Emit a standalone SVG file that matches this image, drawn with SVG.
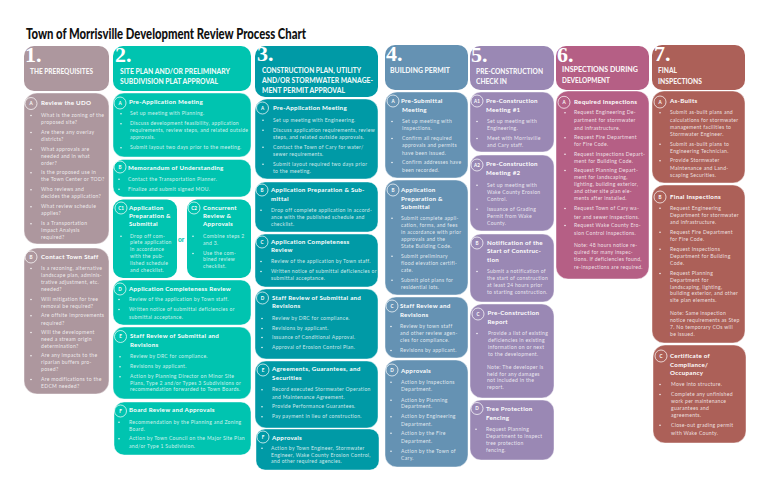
<svg xmlns="http://www.w3.org/2000/svg" width="768" height="497" viewBox="0 0 768 497">
<style>
text{font-family:"Lato","Open Sans","Liberation Sans",sans-serif;fill:#fff}
.title{font-weight:900;font-size:14.5px;fill:#111}
.n{font-family:"Liberation Serif",serif;font-weight:700;font-size:22px}
.l{font-weight:900;font-size:8.2px;fill-opacity:.93}
.h{font-weight:700;font-size:6.2px;letter-spacing:.28px}
.t{font-size:5.1px;letter-spacing:.28px;fill-opacity:.8}
.c{fill:none;stroke:#fff;stroke-width:.8;stroke-opacity:.9}
.k{font-weight:700;font-size:4.6px;text-anchor:middle}
.d{fill:#fff;fill-opacity:.9;r:.8px}
.s{stroke:#fff;stroke-opacity:.55;stroke-width:.8}
.c1{fill:#AD979E}.c2{fill:#00C4B0}.c3{fill:#009AA6}.c4{fill:#6592B3}.c5{fill:#9A88B4}.c6{fill:#B55F85}.c7{fill:#AC6058}
</style>
<rect width="768" height="497" fill="#fff"/>
<text class="title" x="26" y="38.5" textLength="280" lengthAdjust="spacingAndGlyphs">Town of Morrisville Development Review Process Chart</text>

<g id="col1-header"><rect class="c1" x="24" y="46" width="85" height="45" rx="10"/><text class="n" x="25" y="62">1.</text><text class="l" x="30" y="74" textLength="63" lengthAdjust="spacingAndGlyphs">THE PREREQUISITES</text></g>
<g id="col1-a"><rect class="c1 s" x="24" y="93" width="85" height="151" rx="13"/><circle class="c" cx="31" cy="103.5" r="6"/><text class="k" x="31" y="105.2">A</text>
<text class="h" x="41" y="105">Review the UDO</text>
<circle class="d" cx="31" cy="115.5"/><text class="t" x="41" y="117">What is the zoning of the</text><text class="t" x="41" y="124">proposed site?</text>
<circle class="d" cx="31" cy="132.5"/><text class="t" x="41" y="134">Are there any overlay</text><text class="t" x="41" y="141">districts?</text>
<circle class="d" cx="31" cy="149.5"/><text class="t" x="41" y="151">What approvals are</text><text class="t" x="41" y="158">needed and in what</text><text class="t" x="41" y="165">order?</text>
<circle class="d" cx="31" cy="172.8"/><text class="t" x="41" y="174.3">Is the proposed use in</text><text class="t" x="41" y="181.3">the Town Center or TOD?</text>
<circle class="d" cx="31" cy="189.8"/><text class="t" x="41" y="191.3">Who reviews and</text><text class="t" x="41" y="198.3">decides the application?</text>
<circle class="d" cx="31" cy="206.8"/><text class="t" x="41" y="208.3">What review schedule</text><text class="t" x="41" y="215">applies?</text>
<circle class="d" cx="31" cy="223.8"/><text class="t" x="41" y="225.3">Is a Transportation</text><text class="t" x="41" y="232.3">Impact Analysis</text><text class="t" x="41" y="239.3">required?</text></g>
<g id="col1-b"><rect class="c1 s" x="24" y="248" width="85" height="146" rx="13"/><circle class="c" cx="31" cy="257" r="6"/><text class="k" x="31" y="258.7">B</text>
<text class="h" x="41" y="259">Contact Town Staff</text>
<circle class="d" cx="31" cy="268.5"/><text class="t" x="41" y="270">Is a rezoning, alternative</text><text class="t" x="41" y="277">landscape plan, adminis-</text><text class="t" x="41" y="284">trative adjustment, etc.</text><text class="t" x="41" y="291">needed?</text>
<circle class="d" cx="31" cy="299.5"/><text class="t" x="41" y="301">Will mitigation for tree</text><text class="t" x="41" y="308.3">removal be required?</text>
<circle class="d" cx="31" cy="315.8"/><text class="t" x="41" y="317.3">Are offsite improvements</text><text class="t" x="41" y="324.7">required?</text>
<circle class="d" cx="31" cy="332.5"/><text class="t" x="41" y="334">Will the development</text><text class="t" x="41" y="341">need a stream origin</text><text class="t" x="41" y="348">determination?</text>
<circle class="d" cx="31" cy="355.8"/><text class="t" x="41" y="357.3">Are any impacts to the</text><text class="t" x="41" y="364.3">riparian buffers pro-</text><text class="t" x="41" y="371.3">posed?</text>
<circle class="d" cx="31" cy="379.5"/><text class="t" x="41" y="381">Are modifications to the</text><text class="t" x="41" y="388">EDCM needed?</text></g>

<g id="col2-header"><rect class="c2" x="113" y="46" width="138" height="45" rx="10"/><text class="n" x="115" y="62">2.</text><text class="l" x="120" y="74" textLength="110" lengthAdjust="spacingAndGlyphs">SITE PLAN AND/OR PRELIMINARY</text><text class="l" x="120" y="84" textLength="98" lengthAdjust="spacingAndGlyphs">SUBDIVISION PLAT APPROVAL</text></g>
<g id="col2-a"><rect class="c2 s" x="113" y="93" width="138" height="64" rx="11"/><circle class="c" cx="120" cy="103" r="6"/><text class="k" x="120" y="104.7">A</text>
<text class="h" x="129" y="104">Pre-Application Meeting</text>
<circle class="d" cx="121" cy="113.8"/><text class="t" x="130" y="115.3">Set up meeting with Planning.</text>
<circle class="d" cx="121" cy="123.8"/><text class="t" x="130" y="125.3">Discuss development feasibility, application</text><text class="t" x="130" y="132.3">requirements, review steps, and related outside</text><text class="t" x="130" y="139.3">approvals.</text>
<circle class="d" cx="121" cy="147.8"/><text class="t" x="130" y="149.3">Submit layout two days prior to the meeting.</text></g>
<g id="col2-b"><rect class="c2 s" x="113" y="159.5" width="138" height="37.5" rx="10"/><circle class="c" cx="120" cy="167" r="6"/><text class="k" x="120" y="168.7">B</text>
<text class="h" x="128" y="169.7">Memorandum of Understanding</text>
<circle class="d" cx="119" cy="179.2"/><text class="t" x="128" y="180.7">Contact the Transportation Planner.</text>
<circle class="d" cx="119" cy="189.2"/><text class="t" x="128" y="190.7">Finalize and submit signed MOU.</text></g>
<g id="col2-c1"><rect class="c2" x="113" y="199.5" width="64" height="78.5" rx="10"/><circle class="c" cx="121" cy="208" r="6"/><text class="k" x="121" y="209.7">C1</text>
<text class="h" x="129" y="209.7">Application</text><text class="h" x="129" y="217.7">Preparation &amp;</text><text class="h" x="129" y="226.3">Submittal</text>
<circle class="d" cx="121" cy="236.2"/><text class="t" x="130" y="237.7">Drop off com-</text><text class="t" x="130" y="244">plete application</text><text class="t" x="130" y="250.7">in accordance</text><text class="t" x="130" y="257.7">with the pub-</text><text class="t" x="130" y="264.7">lished schedule</text><text class="t" x="130" y="271.7">and checklist.</text></g>
<text id="col2-or" x="178" y="242" style="font-weight:900;font-size:6.6px;fill:#00C4B0">or</text>
<g id="col2-c2"><rect class="c2" x="187" y="199.5" width="64" height="78.5" rx="10"/><circle class="c" cx="194" cy="208" r="6"/><text class="k" x="194" y="209.7">C2</text>
<text class="h" x="203" y="209.7">Concurrent</text><text class="h" x="203" y="217.7">Review &amp;</text><text class="h" x="203" y="226.3">Approvals</text>
<circle class="d" cx="193" cy="236.2"/><text class="t" x="203" y="237.7">Combine steps 2</text><text class="t" x="203" y="244.7">and 3.</text>
<circle class="d" cx="193" cy="253.5"/><text class="t" x="203" y="255">Use the com-</text><text class="t" x="203" y="261">bined review</text><text class="t" x="203" y="267.7">checklist.</text></g>
<g id="col2-d"><rect class="c2 s" x="113" y="280" width="138" height="45" rx="10"/><circle class="c" cx="120" cy="289" r="6"/><text class="k" x="120" y="290.7">D</text>
<text class="h" x="129" y="291">Application Completeness Review</text>
<circle class="d" cx="119" cy="299.5"/><text class="t" x="129" y="301">Review of the application by Town staff.</text>
<circle class="d" cx="119" cy="309.5"/><text class="t" x="129" y="311">Written notice of submittal deficiencies or</text><text class="t" x="129" y="319">submittal acceptance.</text></g>
<g id="col2-e"><rect class="c2 s" x="113" y="327" width="138" height="72" rx="11"/><circle class="c" cx="120.5" cy="336.5" r="6"/><text class="k" x="120.5" y="338.2">E</text>
<text class="h" x="130" y="338">Staff Review of Submittal and</text><text class="h" x="130" y="347">Revisions</text>
<circle class="d" cx="120" cy="356.8"/><text class="t" x="130" y="358.3">Review by DRC for compliance.</text>
<circle class="d" cx="120" cy="366.8"/><text class="t" x="130" y="368.3">Revisions by applicant.</text>
<circle class="d" cx="120" cy="376.8"/><text class="t" x="130" y="378.3">Action by Planning Director on Minor Site</text><text class="t" x="130" y="384.7">Plans, Type 2 and/or Types 3 Subdivisions or</text><text class="t" x="130" y="391.3">recommendation forwarded to Town Boards.</text></g>
<g id="col2-f"><rect class="c2 s" x="114" y="402" width="137" height="53" rx="10"/><circle class="c" cx="120.5" cy="411" r="6"/><text class="k" x="120.5" y="412.7">F</text>
<text class="h" x="129" y="412">Board Review and Approvals</text>
<circle class="d" cx="119" cy="422.2"/><text class="t" x="129" y="423.7">Recommendation by the Planning and Zoning</text><text class="t" x="129" y="430.7">Board.</text>
<circle class="d" cx="119" cy="438.8"/><text class="t" x="129" y="440.3">Action by Town Council on the Major Site Plan</text><text class="t" x="129" y="447.7">and/or Type 1 Subdivision.</text></g>

<g id="col3-header"><rect class="c3" x="255" y="46" width="123" height="51" rx="10"/><text class="n" x="257" y="61">3.</text><text class="l" x="262" y="73.3" textLength="99" lengthAdjust="spacingAndGlyphs">CONSTRUCTION PLAN, UTILITY</text><text class="l" x="262" y="83.3" textLength="111" lengthAdjust="spacingAndGlyphs">AND/OR STORMWATER  MANAGE-</text><text class="l" x="262" y="93.3" textLength="83" lengthAdjust="spacingAndGlyphs">MENT PERMIT APPROVAL</text></g>
<g id="col3-a"><rect class="c3 s" x="255" y="99" width="123" height="80" rx="12"/><circle class="c" cx="262.5" cy="108" r="6"/><text class="k" x="262.5" y="109.7">A</text>
<text class="h" x="273" y="110.3">Pre-Application Meeting</text>
<circle class="d" cx="263" cy="120.2"/><text class="t" x="273" y="121.7">Set up meeting with Engineering.</text>
<circle class="d" cx="263" cy="130.2"/><text class="t" x="273" y="131.7">Discuss application requirements, review</text><text class="t" x="273" y="138.7">steps, and related outside approvals.</text>
<circle class="d" cx="263" cy="147.2"/><text class="t" x="273" y="148.7">Contact the Town of Cary for water/</text><text class="t" x="273" y="155.7">sewer requirements.</text>
<circle class="d" cx="263" cy="164.2"/><text class="t" x="273" y="165.7">Submit layout required two days prior</text><text class="t" x="273" y="172.7">to the meeting.</text></g>
<g id="col3-b"><rect class="c3 s" x="255" y="182" width="123" height="50" rx="10"/><circle class="c" cx="262" cy="190" r="6"/><text class="k" x="262" y="191.7">B</text>
<text class="h" x="271" y="192">Application Preparation &amp; Sub-</text><text class="h" x="271" y="200.7">mittal</text>
<circle class="d" cx="261" cy="210.2"/><text class="t" x="271" y="211.7">Drop off complete application in accord-</text><text class="t" x="271" y="218.7">ance with the published schedule and</text><text class="t" x="271" y="225.7">checklist.</text></g>
<g id="col3-c"><rect class="c3 s" x="255" y="234" width="123" height="53" rx="10"/><circle class="c" cx="262" cy="242" r="6"/><text class="k" x="262" y="243.7">C</text>
<text class="h" x="271" y="244">Application Completeness</text><text class="h" x="271" y="252">Review</text>
<circle class="d" cx="261" cy="261.5"/><text class="t" x="271" y="263">Review of the application by Town staff.</text>
<circle class="d" cx="261" cy="271.5"/><text class="t" x="271" y="273">Written notice of submittal deficiencies or</text><text class="t" x="271" y="280">submittal acceptance.</text></g>
<g id="col3-d"><rect class="c3 s" x="255" y="289" width="123" height="70" rx="11"/><circle class="c" cx="262.5" cy="298" r="6"/><text class="k" x="262.5" y="299.7">D</text>
<text class="h" x="272" y="299.7">Staff Review of Submittal and</text><text class="h" x="272" y="308">Revisions</text>
<circle class="d" cx="262" cy="318.5"/><text class="t" x="272" y="320">Review by DRC for compliance.</text>
<circle class="d" cx="262" cy="328.5"/><text class="t" x="272" y="330">Revisions by applicant.</text>
<circle class="d" cx="262" cy="337.5"/><text class="t" x="272" y="339">Issuance of Conditional Approval.</text>
<circle class="d" cx="262" cy="347.5"/><text class="t" x="272" y="349">Approval of Erosion Control Plan.</text></g>
<g id="col3-e"><rect class="c3 s" x="255" y="361" width="123" height="67" rx="11"/><circle class="c" cx="263" cy="370" r="6"/><text class="k" x="263" y="371.7">E</text>
<text class="h" x="272" y="371.3">Agreements, Guarantees, and</text><text class="h" x="272" y="380.3">Securities</text>
<circle class="d" cx="262" cy="389.8"/><text class="t" x="272" y="391.3">Record  executed Stormwater Operation</text><text class="t" x="272" y="398.7">and Maintenance Agreement.</text>
<circle class="d" cx="262" cy="406.8"/><text class="t" x="272" y="408.3">Provide Performance Guarantees.</text>
<circle class="d" cx="262" cy="416.8"/><text class="t" x="272" y="418.3">Pay payment in lieu of construction.</text></g>
<g id="col3-f"><rect class="c3 s" x="256" y="429" width="123" height="41" rx="9"/><circle class="c" cx="263" cy="437" r="6"/><text class="k" x="263" y="438.7">F</text>
<text class="h" x="272" y="439.7">Approvals</text>
<circle class="d" cx="262" cy="448.2"/><text class="t" x="271" y="449.7">Action by Town Engineer, Stormwater</text><text class="t" x="271" y="456.7">Engineer, Wake County Erosion Control,</text><text class="t" x="271" y="463.3">and other required agencies.</text></g>

<g id="col4-header"><rect class="c4" x="385" y="45" width="83" height="45" rx="10"/><text class="n" x="386" y="61">4.</text><text class="l" x="390" y="73.3" textLength="60" lengthAdjust="spacingAndGlyphs">BUILDING PERMIT</text></g>
<g id="col4-a"><rect class="c4 s" x="385" y="92" width="83" height="86" rx="12"/><circle class="c" cx="393" cy="101" r="6"/><text class="k" x="393" y="102.7">A</text>
<text class="h" x="401" y="103">Pre-Submittal</text><text class="h" x="402" y="112.3">Meeting</text>
<circle class="d" cx="392" cy="121.5"/><text class="t" x="402" y="123">Set up meeting with</text><text class="t" x="402" y="130">Inspections.</text>
<circle class="d" cx="392" cy="138.5"/><text class="t" x="402" y="140">Confirm all required</text><text class="t" x="402" y="147">approvals and permits</text><text class="t" x="402" y="154.7">have been issued.</text>
<circle class="d" cx="392" cy="162.5"/><text class="t" x="402" y="164">Confirm addresses have</text><text class="t" x="402" y="171.7">been recorded.</text></g>
<g id="col4-b"><rect class="c4 s" x="385" y="180" width="83" height="115" rx="12"/><circle class="c" cx="393" cy="190" r="6"/><text class="k" x="393" y="191.7">B</text>
<text class="h" x="401" y="192">Application</text><text class="h" x="401" y="200.7">Preparation &amp;</text><text class="h" x="401" y="208.7">Submittal</text>
<circle class="d" cx="392" cy="218.2"/><text class="t" x="401" y="219.7">Submit complete appli-</text><text class="t" x="401" y="226.7">cation, forms, and fees</text><text class="t" x="401" y="233.7">in accordance with prior</text><text class="t" x="401" y="240.7">approvals and the</text><text class="t" x="401" y="247.7">State Building Code.</text>
<circle class="d" cx="392" cy="256.2"/><text class="t" x="401" y="257.7">Submit preliminary</text><text class="t" x="401" y="264.7">flood elevation certifi-</text><text class="t" x="401" y="271.7">cate.</text>
<circle class="d" cx="392" cy="280.2"/><text class="t" x="401" y="281.7">Submit plot plans for</text><text class="t" x="401" y="289">residential lots.</text></g>
<g id="col4-c"><rect class="c4 s" x="385" y="297" width="83" height="61" rx="11"/><circle class="c" cx="392" cy="306" r="6"/><text class="k" x="392" y="307.7">C</text>
<text class="h" x="400" y="307.7">Staff Review and</text><text class="h" x="400" y="316.7">Revisions</text>
<circle class="d" cx="391" cy="326.5"/><text class="t" x="400" y="328">Review by town staff</text><text class="t" x="400" y="335">and other review agen-</text><text class="t" x="400" y="342">cies for compliance.</text>
<circle class="d" cx="391" cy="350.5"/><text class="t" x="400" y="352">Revisions by applicant.</text></g>
<g id="col4-d"><rect class="c4 s" x="385" y="360" width="83" height="107" rx="12"/><circle class="c" cx="392" cy="370" r="6"/><text class="k" x="392" y="371.7">D</text>
<text class="h" x="401" y="373">Approvals</text>
<circle class="d" cx="391" cy="382.2"/><text class="t" x="401" y="383.7">Action by Inspections</text><text class="t" x="401" y="391.3">Department.</text>
<circle class="d" cx="391" cy="400.2"/><text class="t" x="401" y="401.7">Action by Planning</text><text class="t" x="401" y="408.3">Department.</text>
<circle class="d" cx="391" cy="416.8"/><text class="t" x="401" y="418.3">Action by Engineering</text><text class="t" x="401" y="425.7">Department.</text>
<circle class="d" cx="391" cy="433.2"/><text class="t" x="401" y="434.7">Action by the Fire</text><text class="t" x="401" y="442.7">Department.</text>
<circle class="d" cx="391" cy="451.2"/><text class="t" x="401" y="452.7">Action by the Town of</text><text class="t" x="401" y="459.7">Cary.</text></g>

<g id="col5-header"><rect class="c5" x="470" y="46" width="84" height="44" rx="10"/><text class="n" x="471" y="62">5.</text><text class="l" x="476" y="73.6" textLength="67" lengthAdjust="spacingAndGlyphs">PRE-CONSTRUCTION</text><text class="l" x="476" y="83.6" textLength="31" lengthAdjust="spacingAndGlyphs">CHECK IN</text></g>
<g id="col5-a1"><rect class="c5 s" x="470" y="92" width="84" height="60" rx="11"/><circle class="c" cx="477" cy="101" r="6"/><text class="k" x="477" y="102.7">A1</text>
<text class="h" x="486" y="103.3">Pre-Construction</text><text class="h" x="486" y="112.3">Meeting #1</text>
<circle class="d" cx="477" cy="121.5"/><text class="t" x="487" y="123">Set up meeting with</text><text class="t" x="487" y="130">Engineering.</text>
<circle class="d" cx="477" cy="138.5"/><text class="t" x="487" y="140">Meet with Morrisville</text><text class="t" x="487" y="147">and Cary staff.</text></g>
<g id="col5-a2"><rect class="c5 s" x="470" y="155" width="84" height="76" rx="11"/><circle class="c" cx="477" cy="165" r="6"/><text class="k" x="477" y="166.7">A2</text>
<text class="h" x="486" y="166.3">Pre-Construction</text><text class="h" x="486" y="175.3">Meeting #2</text>
<circle class="d" cx="477" cy="185.2"/><text class="t" x="487" y="186.7">Set up meeting with</text><text class="t" x="487" y="193.7">Wake County Erosion</text><text class="t" x="487" y="200.7">Control.</text>
<circle class="d" cx="477" cy="209.2"/><text class="t" x="487" y="210.7">Issuance of Grading</text><text class="t" x="487" y="217.7">Permit from Wake</text><text class="t" x="487" y="224.7">County.</text></g>
<g id="col5-b"><rect class="c5 s" x="470" y="234" width="84" height="68" rx="11"/><circle class="c" cx="477" cy="243" r="6"/><text class="k" x="477" y="244.7">B</text>
<text class="h" x="487" y="244.7">Notification of the</text><text class="h" x="487" y="253">Start of  Construc-</text><text class="h" x="487" y="262">tion</text>
<circle class="d" cx="477" cy="271.5"/><text class="t" x="487" y="273">Submit a notification of</text><text class="t" x="487" y="280">the start of construction</text><text class="t" x="487" y="287">at least 24 hours prior</text><text class="t" x="487" y="294">to starting construction.</text></g>
<g id="col5-c"><rect class="c5 s" x="470" y="304" width="84" height="94" rx="12"/><circle class="c" cx="478" cy="314" r="6"/><text class="k" x="478" y="315.7">C</text>
<text class="h" x="487.5" y="315.3">Pre-Construction</text><text class="h" x="487.5" y="324">Report</text>
<circle class="d" cx="477" cy="333.5"/><text class="t" x="488" y="335">Provide a list of existing</text><text class="t" x="488" y="342">deficiencies in existing</text><text class="t" x="488" y="349">information on or next</text><text class="t" x="488" y="356.3">to the development.</text>
<text class="t" x="487" y="369.3">Note: The developer is</text><text class="t" x="487" y="375.7">held for any damages</text><text class="t" x="487" y="382.3">not included in the</text><text class="t" x="487" y="389.3">report.</text></g>
<g id="col5-d"><rect class="c5 s" x="470" y="400" width="84" height="60" rx="11"/><circle class="c" cx="477" cy="408.5" r="6"/><text class="k" x="477" y="410.2">D</text>
<text class="h" x="486" y="410.7">Tree Protection</text><text class="h" x="486" y="419.7">Fencing</text>
<circle class="d" cx="476" cy="429.2"/><text class="t" x="486" y="430.7">Request Planning</text><text class="t" x="486" y="437.7">Department to inspect</text><text class="t" x="486" y="444.7">tree protection</text><text class="t" x="486" y="451.7">fencing.</text></g>

<g id="col6-header"><rect class="c6" x="556" y="46" width="93" height="44" rx="10"/><text class="n" x="557" y="62">6.</text><text class="l" x="562" y="72" textLength="76" lengthAdjust="spacingAndGlyphs">INSPECTIONS DURING</text><text class="l" x="562" y="83" textLength="48" lengthAdjust="spacingAndGlyphs">DEVELOPMENT</text></g>
<g id="col6-a"><rect class="c6 s" x="556" y="91" width="93" height="188" rx="12"/><circle class="c" cx="564" cy="102.3" r="6"/><text class="k" x="564" y="104">A</text>
<text class="h" x="574" y="104.3">Required Inspections</text>
<circle class="d" cx="565" cy="112.8"/><text class="t" x="574" y="114.3">Request Engineering De-</text><text class="t" x="574" y="121.7">partment for stormwater</text><text class="t" x="574" y="129.7">and infrastructure.</text>
<circle class="d" cx="565" cy="137.8"/><text class="t" x="574" y="139.3">Request Fire Department</text><text class="t" x="574" y="146.3">for Fire Code.</text>
<circle class="d" cx="565" cy="154.2"/><text class="t" x="574" y="155.7">Request Inspections Depart-</text><text class="t" x="574" y="162.7">ment for Building Code.</text>
<circle class="d" cx="565" cy="170.5"/><text class="t" x="574" y="172">Request Planning Depart-</text><text class="t" x="574" y="179">ment  for landscaping,</text><text class="t" x="574" y="186">lighting, building exterior,</text><text class="t" x="574" y="193">and other site plan ele-</text><text class="t" x="574" y="200">ments after installed.</text>
<circle class="d" cx="565" cy="208.5"/><text class="t" x="574" y="210">Request Town of Cary wa-</text><text class="t" x="574" y="218.7">ter and sewer inspections.</text>
<circle class="d" cx="565" cy="225.5"/><text class="t" x="574" y="227">Request Wake County Ero-</text><text class="t" x="574" y="235.3">sion Control Inspections.</text>
<text class="t" x="574" y="247">Note: 48 hours notice re-</text><text class="t" x="574" y="254">quired for many inspec-</text><text class="t" x="574" y="261">tions.  If deficiencies found,</text><text class="t" x="574" y="268.5">re-inspections are required.</text></g>

<g id="col7-header"><rect class="c7" x="652" y="45" width="93" height="45" rx="10"/><text class="n" x="654" y="61">7.</text><text class="l" x="658" y="73" textLength="19" lengthAdjust="spacingAndGlyphs">FINAL</text><text class="l" x="658" y="83.6" textLength="44" lengthAdjust="spacingAndGlyphs">INSPECTIONS</text></g>
<g id="col7-a"><rect class="c7 s" x="652" y="91" width="93" height="92" rx="12"/><circle class="c" cx="660" cy="102" r="6"/><text class="k" x="660" y="103.7">A</text>
<text class="h" x="670" y="103">As-Builts</text>
<circle class="d" cx="660" cy="112.8"/><text class="t" x="670" y="114.3">Submit as-built plans and</text><text class="t" x="670" y="121.7">calculations for stormwater</text><text class="t" x="670" y="128.7">management facilities to</text><text class="t" x="670" y="135.7">Stormwater Engineer.</text>
<circle class="d" cx="660" cy="144.2"/><text class="t" x="670" y="145.7">Submit as-built plans to</text><text class="t" x="670" y="152.7">Engineering Technician.</text>
<circle class="d" cx="660" cy="160.8"/><text class="t" x="670" y="162.3">Provide Stormwater</text><text class="t" x="670" y="169.7">Maintenance and Land-</text><text class="t" x="670" y="176.7">scaping Securities.</text></g>
<g id="col7-b"><rect class="c7 s" x="652" y="185" width="93" height="158" rx="12"/><circle class="c" cx="660" cy="197" r="6"/><text class="k" x="660" y="198.7">B</text>
<text class="h" x="670" y="198.7">Final Inspections</text>
<circle class="d" cx="660" cy="208.2"/><text class="t" x="670" y="209.7">Request Engineering</text><text class="t" x="670" y="217">Department for stormwater</text><text class="t" x="670" y="224">and infrastructure.</text>
<circle class="d" cx="660" cy="232.2"/><text class="t" x="670" y="233.7">Request Fire Department</text><text class="t" x="670" y="240.7">for Fire Code.</text>
<circle class="d" cx="660" cy="249.2"/><text class="t" x="670" y="250.7">Request Inspections</text><text class="t" x="670" y="257.7">Department for Building</text><text class="t" x="670" y="265">Code.</text>
<circle class="d" cx="660" cy="273.5"/><text class="t" x="670" y="275">Request Planning</text><text class="t" x="670" y="282">Department  for</text><text class="t" x="670" y="289">landscaping, lighting,</text><text class="t" x="670" y="295">building exterior, and other</text><text class="t" x="670" y="302">site plan elements.</text>
<text class="t" x="670" y="315">Note: Same inspection</text><text class="t" x="670" y="322.3">notice requirements as Step</text><text class="t" x="670" y="329">7.  No temporary COs will</text><text class="t" x="670" y="336.3">be issued.</text></g>
<g id="col7-c"><rect class="c7 s" x="653" y="345" width="93" height="98" rx="12"/><circle class="c" cx="661" cy="356" r="6"/><text class="k" x="661" y="357.7">C</text>
<text class="h" x="670" y="358">Certificate of</text><text class="h" x="670" y="366.7">Compliance/</text><text class="h" x="670" y="375">Occupancy</text>
<circle class="d" cx="660" cy="384.5"/><text class="t" x="671" y="386">Move into structure.</text>
<circle class="d" cx="660" cy="394.5"/><text class="t" x="671" y="396">Complete any unfinished</text><text class="t" x="671" y="403">work per maintenance</text><text class="t" x="671" y="410">guarantees and</text><text class="t" x="671" y="417">agreements.</text>
<circle class="d" cx="660" cy="425.2"/><text class="t" x="671" y="426.7">Close-out grading permit</text><text class="t" x="671" y="434.7">with Wake County.</text></g>
</svg>
